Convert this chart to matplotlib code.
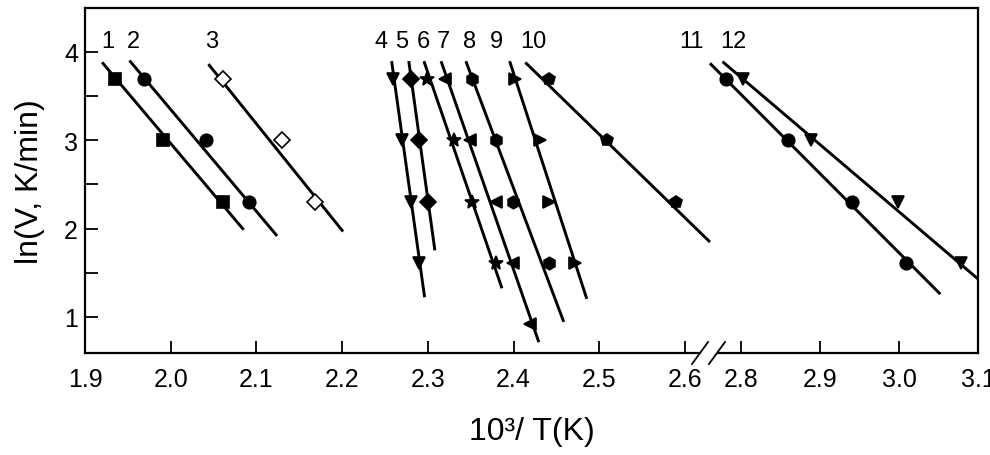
import numpy as np
import matplotlib
matplotlib.use('Agg')
import matplotlib.pyplot as plt

plt.rcParams['font.family'] = ['Liberation Sans', 'DejaVu Sans']

# ln(heating rate) levels, 40, 20, 10, 5, 2.5 K/min
lnv = [3.69, 3.00, 2.30, 1.61, 0.92]

# points (10^3/T) for each series
x1 = [1.935, 1.991, 2.061]
x2 = [1.969, 2.041, 2.091]
x3 = [2.061, 2.130, 2.168]
x4 = [2.259, 2.270, 2.280, 2.290]
x5 = [2.280, 2.290, 2.300]
x6 = [2.299, 2.330, 2.351, 2.380]
x7 = [2.320, 2.349, 2.380, 2.399, 2.419]
x8 = [2.351, 2.380, 2.399, 2.441]
x9 = [2.402, 2.431, 2.441, 2.472]
x10 = [2.441, 2.509, 2.590]
x11 = [2.781, 2.860, 2.940, 3.009]
x12 = [2.803, 2.889, 2.999, 3.079]

# fitted lines: x range and ln(V) at the ends
fit_x = [[1.921, 2.084], [1.953, 2.123], [2.045, 2.200], [2.258, 2.296],
         [2.278, 2.308], [2.296, 2.386], [2.316, 2.429], [2.345, 2.458],
         [2.396, 2.485], [2.415, 2.628], [2.762, 3.051], [2.778, 3.100]]
fit_y = [[3.87, 2.00], [3.89, 1.93], [3.85, 1.98], [3.88, 1.24],
         [3.88, 1.77], [3.88, 1.34], [3.88, 0.73], [3.88, 0.96],
         [3.88, 1.22], [3.87, 1.86], [3.86, 1.27], [3.88, 1.43]]

labels = ['1', '2', '3', '4', '5', '6', '7', '8', '9', '10', '11', '12']
label_x = [1.926, 1.956, 2.048, 2.246, 2.270, 2.295, 2.318, 2.349, 2.380,
           2.423, 2.608, 2.790]
label_y = 4.125

xs = [x1, x2, x3, x4, x5, x6, x7, x8, x9, x10, x11, x12]
markers = ['s', 'o', 'D', 'v', 'D', '*', '<', 'h', '>', 'p', 'o', 'v']
faces = ['k', 'k', 'w', 'k', 'k', 'k', 'k', 'k', 'k', 'k', 'k', 'k']
sizes = [8, 9, 8, 9, 8, 10, 9, 9, 9, 9, 9, 9]

# broken axis: 2.629 .. 2.761 is squeezed out, right part a bit narrower
brk_x = [0.0, 2.629, 2.761, 5.0]
brk_u = [0.0, 2.629, 2.6295, 2.6295 + (5.0 - 2.761) * 0.922]


def fwd(x):
    return np.interp(x, brk_x, brk_u)


def inv(u):
    return np.interp(u, brk_u, brk_x)


fig = plt.figure(figsize=(9.9, 4.56), dpi=100)
ax = fig.add_axes([0.0859, 0.2237, 0.902, 0.7566])
ax.set_xscale('function', functions=(fwd, inv))

for i in range(12):
    ax.plot(fit_x[i], fit_y[i], color='k', lw=2.1, zorder=2)
    ax.plot(xs[i], lnv[:len(xs[i])], linestyle='none', marker=markers[i],
            ms=sizes[i], mfc=faces[i], mec='k', mew=1.2, zorder=3)
    ax.text(label_x[i], label_y, labels[i], fontsize=17, ha='center',
            va='center')

ax.set_xlim(1.9, 3.1)
ax.set_ylim(0.592, 4.498)
xt = [1.9, 2.0, 2.1, 2.2, 2.3, 2.4, 2.5, 2.6, 2.8, 2.9, 3.0, 3.1]
ax.set_xticks(xt)
ax.set_xticklabels(['%.1f' % v for v in xt])
ax.set_xticks([], minor=True)
ax.set_yticks([1, 2, 3, 4])
ax.set_yticks([1.5, 2.5, 3.5], minor=True)
ax.tick_params(axis='both', which='both', direction='in', length=9,
               width=1.3, labelsize=18, top=False, right=False)
ax.tick_params(axis='x', pad=10)
ax.tick_params(axis='y', pad=5)
for s in ax.spines.values():
    s.set_linewidth(1.6)

ax.set_xlabel('10³/ T(K)', fontsize=23, labelpad=18)
ax.set_ylabel('ln(V, K/min)', fontsize=23, labelpad=14)

# break marks on the bottom axis
ax.plot([0.692, 0.706], [0.0, 0.0], color='w', lw=3, transform=ax.transAxes,
        clip_on=False, zorder=5)
for c in [0.6887, 0.7077]:
    ax.plot([c - 0.009, c + 0.009], [-0.032, 0.032], color='k', lw=1.3,
            transform=ax.transAxes, clip_on=False, zorder=6)

fig.savefig('out.png', dpi=100)
